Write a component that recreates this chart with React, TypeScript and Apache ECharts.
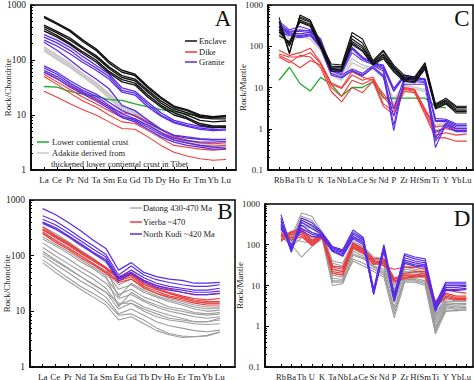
import React, { useEffect, useRef } from 'react';
import * as echarts from 'echarts';

// ---------- categories ----------
const reeCats = ['La', 'Ce', 'Pr', 'Nd', 'Ta', 'Sm', 'Eu', 'Gd', 'Tb', 'Dy', 'Ho', 'Er', 'Tm', 'Yb', 'Lu'];
const spiderCats = ['Rb', 'Ba', 'Th', 'U', 'K', 'Ta', 'Nb', 'La', 'Ce', 'Sr', 'Nd', 'P', 'Zr', 'Hf', 'Sm', 'Ti', 'Y', 'Yb', 'Lu'];

// ---------- Panel A (REE, chondrite normalised) ----------
const aEnclave = [
  [620, 470, 350, 230, 160, 95, 65, 55, 33, 21, 14.5, 12.5, 10, 9.3, 9.8],
  [590, 450, 330, 215, 150, 88, 60, 52, 31, 20, 14, 12, 9.5, 9, 9.3],
  [430, 330, 250, 170, 120, 75, 52, 45, 28, 18, 13, 11, 9, 8.5, 8.5],
  [400, 310, 230, 160, 112, 70, 48, 42, 26, 16.5, 12, 10, 8, 7.5, 7.8],
  [370, 280, 200, 140, 100, 62, 44, 38, 23, 15, 11, 9, 7, 6.3, 6.3],
  [340, 260, 190, 130, 92, 58, 40, 35, 21, 14, 10, 8.5, 6.5, 6, 6],
];
const aDike = [
  [60, 45, 33, 25, 19, 14, 11, 10, 7.5, 5.5, 4, 3.5, 3.1, 3, 3.1],
  [55, 40, 29, 21, 16, 12, 9, 8.5, 6.5, 4.8, 3.5, 3.1, 2.8, 2.7, 2.8],
  [50, 36, 25, 18, 14, 10, 7.5, 7, 5.2, 3.8, 2.8, 2.6, 2.4, 2.3, 2.4],
  [27, 21, 16, 12.5, 10, 7.5, 5.7, 5.5, 4, 2.8, 2.1, 1.8, 1.6, 1.5, 1.55],
];
const aGranite = [
  [290, 230, 170, 115, 80, 55, 31, 27, 17, 11, 8, 7, 6.2, 5.8, 6.2],
  [260, 205, 150, 100, 72, 50, 28, 25, 15.5, 10, 7.5, 6.5, 5.8, 5.4, 5.6],
  [230, 180, 130, 90, 65, 45, 26, 23, 14, 9.5, 7.2, 6.2, 5.5, 5.2, 5.3],
  [210, 150, 100, 65, 45, 30, 15, 12, 8, 5.5, 4.2, 3.8, 3.6, 3.5, 3.6],
  [78, 60, 42, 31, 24, 17, 12, 9.5, 7.2, 5.4, 4.3, 4, 3.7, 3.6, 3.6],
  [72, 55, 38, 28, 22, 15, 10.5, 8.5, 6.5, 4.8, 3.8, 3.4, 3.2, 3.2, 3.3],
  [65, 50, 35, 26, 20, 14, 9.5, 8, 6, 4.4, 3.5, 3.1, 2.8, 2.6, 2.5],
  [60, 46, 32, 24, 18, 13, 9, 7.5, 5.5, 4, 3.2, 2.8, 2.6, 2.4, 2.4],
];
const aLowerCrust = [33, 32, 27, 24, 22, 19, 18.5, 16, 14, 12.5, 11.5, 10.5, 9.5, 9.2, 9.4];
const aAdakite = [
  [170, 120, 85, 55, 38, 24, 14, 11, 8, 5.5, 4, 3.4, 3, 2.8, 2.8],
  [150, 105, 75, 50, 34, 21, 12.5, 10, 7, 4.8, 3.6, 3.1, 2.8, 2.6, 2.7],
];

// ---------- Panel C (spider, primitive mantle normalised) ----------
const cEnclave = [
  [500, 70, 570, 430, 120, 37, 35, 215, 150, 45, 80, 35, 20, 18, 40, 4, 5.5, 3.5, 3.5],
  [400, 65, 520, 400, 110, 33, 32, 180, 120, 42, 75, 32, 18, 17, 37, 3.8, 5, 3.3, 3.3],
  [300, 100, 480, 380, 105, 30, 30, 150, 100, 40, 65, 30, 17, 16, 34, 3.6, 4.8, 3, 3],
  [250, 110, 430, 340, 100, 28, 28, 130, 90, 38, 60, 28, 16, 15, 32, 3.4, 4.5, 2.8, 2.8],
  [220, 120, 400, 320, 95, 27, 27, 120, 80, 36, 55, 26, 15, 14, 30, 3.2, 4.2, 2.6, 2.6],
  [180, 130, 380, 300, 90, 25, 25, 110, 75, 35, 50, 24, 14, 13, 28, 3, 4, 2.4, 2.4],
];
const cGranite = [
  [400, 250, 300, 250, 150, 30, 26, 95, 55, 40, 35, 9.5, 20, 18, 16, 1.6, 1.6, 1.2, 1.2],
  [350, 230, 250, 230, 130, 28, 24, 85, 50, 38, 30, 8, 18, 17, 15, 1.5, 1.5, 1.1, 1.1],
  [300, 210, 200, 220, 110, 26, 22, 70, 45, 36, 28, 3, 17, 16, 16, 0.6, 1.4, 1.0, 1.0],
  [280, 200, 180, 200, 100, 25, 20, 28, 22, 34, 25, 1.2, 16, 15, 14, 0.35, 1.3, 1.0, 1.0],
  [250, 190, 170, 190, 95, 22, 18, 26, 20, 32, 20, 0.9, 14, 14, 13, 0.5, 1.2, 0.9, 0.9],
  [320, 220, 230, 240, 140, 29, 25, 90, 52, 39, 33, 8.5, 19, 17, 16, 1.8, 1.7, 1.3, 1.3],
  [220, 180, 160, 180, 90, 20, 17, 25, 19, 30, 18, 2, 12, 12, 12, 0.8, 1.1, 0.85, 0.85],
];
const cDike = [
  [80, 60, 70, 90, 40, 13, 10, 24, 18, 15, 7, 3.5, 10, 9, 3, 1.1, 1.2, 1.0, 1.0],
  [65, 55, 55, 70, 38, 12, 9.5, 20, 15, 18, 6, 3.0, 9.5, 8.7, 2.9, 0.9, 1.0, 0.9, 0.9],
  [60, 45, 30, 45, 35, 10, 6, 15, 12, 16, 4, 2.6, 9, 8, 2.5, 0.7, 0.8, 0.7, 0.75],
  [55, 40, 60, 55, 30, 8, 4.5, 10, 7.5, 14, 3.5, 2.2, 8, 7.5, 2.2, 0.6, 0.6, 0.5, 0.5],
];
const cLowerCrust = [15, 31, 12.5, 8.2, 17.5, 12, 6.2, 10, 10, 14, 5.5, 5.5, 5.5, 5.5, 5.5, 3.5, 3.2, null, null];
const cAdakite = [
  [250, 150, 200, 180, 100, 25, 20, 50, 35, 30, 20, 5, 12, 10, 9, 1.2, 1.5, 1.3, 1.3],
  [200, 120, 180, 150, 80, 20, 15, 40, 30, 28, 18, 4, 11, 9, 8, 1.1, 1.3, 1.2, 1.2],
];

// ---------- Panel B (REE, comparison) ----------
const bDatong = [
  [400, 300, 220, 150, 110, 75, 40, 45, 32, 25, 21, 18, 15, 14, 14],
  [330, 250, 180, 125, 90, 60, 30, 38, 27, 21, 17, 15, 13, 12, 12],
  [250, 190, 140, 100, 72, 50, 25, 30, 22, 18, 15, 13, 11, 10, 10.5],
  [200, 150, 110, 78, 58, 40, 20, 25, 18, 15, 12, 11, 9.5, 9, 9.5],
  [170, 120, 88, 62, 46, 32, 17, 20, 15, 12, 10, 9, 8, 7.5, 8],
  [140, 100, 72, 52, 38, 26, 13, 16, 12, 10, 8.5, 7.5, 6.5, 6.5, 7],
  [120, 85, 60, 42, 31, 22, 11, 14, 10, 8, 7, 6.5, 6, 5.8, 6],
  [100, 70, 50, 35, 26, 18, 9, 11, 8.5, 6.5, 5.5, 5, 4.5, 4.3, 4.6],
  [85, 58, 40, 28, 21, 15, 8.5, 9, 7, 5, 4, 3.6, 3.5, 3.7, 4.3],
  [75, 50, 35, 25, 18, 13, 7, 8, 6, 4.5, 3.8, 3.4, 3.5, 3.6, 4.2],
  [300, 230, 170, 120, 85, 60, 18, 32, 24, 19, 16, 14, 12, 11, 11.5],
  [220, 160, 120, 85, 62, 44, 12, 22, 16, 13, 11, 10, 9, 8.5, 9],
  [110, 80, 58, 42, 30, 22, 14, 14, 11, 9, 7.5, 7, 6.5, 6.5, 7.5],
];
const bYierba = [
  [330, 230, 170, 120, 85, 62, 40, 48, 32, 26, 22, 19, 17, 16, 17],
  [300, 210, 155, 110, 80, 58, 38, 45, 30, 25, 21, 18, 16, 15, 15],
  [270, 190, 140, 100, 72, 52, 35, 42, 28, 23, 19, 17, 15, 14, 14],
  [250, 175, 130, 92, 68, 48, 33, 38, 26, 21, 18, 16, 14, 13, 13],
  [290, 220, 160, 115, 85, 60, 42, 50, 35, 29, 25, 22, 20, 20, 21],
];
const bNorthKudi = [
  [700, 550, 400, 280, 190, 135, 55, 75, 50, 42, 38, 36, 32, 32, 33],
  [520, 420, 300, 210, 150, 105, 45, 65, 45, 37, 33, 30, 28, 28, 30],
  [450, 360, 260, 185, 130, 95, 40, 55, 40, 32, 28, 26, 24, 24, 26],
  [400, 320, 230, 165, 115, 85, 38, 50, 36, 29, 26, 24, 22, 22, 23],
  [380, 300, 220, 155, 110, 80, 35, 48, 34, 27, 24, 22, 20, 20, 21],
];

// ---------- Panel D (spider, comparison) ----------
const dDatong = [
  [300, 150, 600, 500, 200, 40, 35, 120, 90, 50, 45, 10, 30, 28, 25, 2, 5, 4.5, 4.5],
  [250, 120, 500, 400, 180, 30, 28, 100, 75, 40, 38, 7, 25, 23, 20, 1.6, 4.2, 4, 4],
  [220, 180, 300, 250, 170, 20, 18, 80, 60, 35, 30, 5, 20, 19, 17, 1.2, 3.5, 3.3, 3.4],
  [200, 160, 250, 200, 160, 15, 14, 70, 52, 30, 25, 4, 18, 17, 15, 1.0, 3.2, 3, 3],
  [180, 90, 150, 120, 150, 12, 12, 55, 45, 28, 20, 3, 15, 15, 13, 0.9, 2.8, 2.6, 2.7],
  [160, 100, 50, 90, 140, 10, 11, 45, 35, 25, 18, 2.5, 13, 13, 11, 0.8, 2.5, 2.4, 2.5],
  [260, 130, 400, 300, 190, 35, 30, 110, 85, 45, 40, 8, 28, 25, 22, 1.8, 4.8, 4.2, 4.3],
  [140, 200, 200, 150, 160, 18, 16, 60, 48, 30, 22, 2, 14, 14, 12, 0.7, 3, 2.8, 2.9],
  [230, 110, 350, 280, 175, 25, 22, 90, 70, 38, 33, 6, 22, 21, 19, 1.4, 3.8, 3.6, 3.6],
  [190, 140, 120, 110, 155, 13, 13, 40, 30, 22, 16, 1.6, 12, 12, 10, 0.65, 2.3, 2.4, 2.5],
];
const dYierba = [
  [150, 210, 250, 130, 180, 28, 25, 110, 75, 45, 45, 15, 18, 18, 20, 3.8, 6.5, 5.5, 5.5],
  [130, 180, 200, 110, 170, 25, 22, 100, 70, 38, 40, 13, 16, 17, 18, 3.5, 6, 5, 5],
  [170, 150, 180, 100, 160, 22, 20, 90, 65, 35, 38, 12, 15, 16, 17, 3.2, 5.5, 4.8, 4.8],
  [190, 130, 160, 95, 150, 20, 18, 85, 60, 33, 35, 14, 20, 22, 22, 3.0, 5, 4.5, 4.5],
  [120, 200, 220, 120, 175, 30, 28, 105, 80, 42, 30, 25, 28, 28, 25, 4, 8, 7, 6.5],
];
const dNorthKudi = [
  [550, 80, 450, 350, 200, 90, 75, 230, 150, 8, 100, 6, 60, 50, 45, 3.5, 12, 12, 12],
  [450, 70, 400, 300, 190, 85, 70, 200, 140, 7.5, 90, 5.5, 55, 45, 40, 3.2, 11, 11, 11],
  [380, 65, 350, 250, 180, 80, 65, 180, 130, 7, 85, 5, 48, 40, 36, 3, 10, 10, 10],
  [320, 75, 300, 200, 170, 75, 60, 160, 120, 6.5, 80, 4.5, 42, 36, 32, 2.8, 9, 9, 9.5],
  [280, 90, 250, 180, 160, 70, 55, 150, 110, 6, 75, 4.2, 38, 32, 30, 2.5, 8, 8, 8.5],
  [250, 100, 220, 160, 150, 68, 52, 140, 100, 6.5, 70, 4, 35, 30, 28, 2.3, 7.5, 7.5, 8],
];

const ticks1 = [1, 10, 100, 1000];
const ticks01 = [0.1, 1, 10, 100, 1000];

const FONT = 'Liberation Serif';
const BLACK = '#111111';
const RED = '#ee3b3b';
const PURPLE = '#5a2ce6';
const GRAY = '#9c9c9c';
const LGRAY = '#c9c9c9';
const GREEN = '#22a82a';

function minorList(min: number, max: number) {
  const out: number[] = [];
  for (let d = min; d < max; d *= 10) {
    for (let k = 2; k <= 9; k++) out.push(Math.round(d * k * 1000) / 1000);
  }
  return out;
}

export default function App() {
  const ref = useRef<HTMLDivElement>(null);
  useEffect(() => {
    if (!ref.current) return;
    const chart = echarts.init(ref.current, undefined, { renderer: 'svg' });

    const grids = [
      { left: 31, top: 5, width: 205, height: 165 },
      { left: 268, top: 5, width: 205, height: 165 },
      { left: 30, top: 200, width: 205, height: 167 },
      { left: 265, top: 204, width: 208, height: 163 },
    ];
    const panelCats = [reeCats, spiderCats, reeCats, spiderCats];
    const pads = [1, 1.06, 1, 1.55];
    const spans = [15.77, 19.66, 16.2, 20.2];
    const yMins = [1, 0.1, 1, 0.1];
    const yNames = ['Rock/Chondrite', 'Rock/Mantle', 'Rock/Chondrite', 'Rock/Mantle'];

    const xAxis = grids.map((_, i) => {
      const cats = panelCats[i];
      const pos = cats.map((_, k) => k + pads[i]);
      return {
        type: 'value',
        gridIndex: i,
        position: 'bottom',
        min: 0,
        max: spans[i],
        splitLine: { show: false },
        axisLine: { show: true, onZero: false, lineStyle: { color: '#000', width: 1.5 } },
        axisTick: { show: true, inside: true, length: 3, customValues: pos, lineStyle: { color: '#000' } },
        axisLabel: {
          customValues: pos,
          formatter: (v: number) => cats[Math.round(v - pads[i])] ?? '',
          fontFamily: FONT,
          fontSize: i % 2 === 0 ? 9 : 8.5,
          color: '#222',
          margin: 5,
        },
      };
    });

    const yAxis: any[] = [];
    grids.forEach((_, i) => {
      const ticks = yMins[i] === 1 ? ticks1 : ticks01;
      yAxis.push({
        type: 'log',
        logBase: 10,
        gridIndex: i,
        position: 'left',
        min: yMins[i],
        max: 1000,
        name: yNames[i],
        nameLocation: 'middle',
        nameMoveOverlap: false,
        nameGap: i % 2 === 0 ? 19 : 21,
        nameTextStyle: { fontFamily: FONT, fontSize: 9, color: '#222' },
        splitLine: { show: false },
        axisLine: { show: true, onZero: false, lineStyle: { color: '#000', width: 1.5 } },
        axisTick: { show: true, inside: true, length: 4, customValues: ticks, lineStyle: { color: '#000' } },
        axisLabel: {
          customValues: ticks,
          formatter: (v: number) => String(v),
          fontFamily: FONT,
          fontSize: i % 2 === 0 ? 9.5 : 9,
          color: '#222',
          margin: 5,
        },
      });
    });
    grids.forEach((_, i) => {
      yAxis.push({
        type: 'log',
        logBase: 10,
        gridIndex: i,
        position: 'left',
        min: yMins[i],
        max: 1000,
        splitLine: { show: false },
        axisLine: { show: false, onZero: false },
        axisTick: { show: true, inside: true, length: 2, customValues: minorList(yMins[i], 1000), lineStyle: { color: '#000' } },
        axisLabel: { show: false },
      });
    });

    const series: any[] = [];
    const add = (panel: number, rows: (number | null)[][], color: string, width: number) => {
      rows.forEach((row) => {
        series.push({
          type: 'line',
          xAxisIndex: panel,
          yAxisIndex: panel,
          data: row.map((v, k) => [k + pads[panel], v]),
          showSymbol: false,
          symbol: 'none',
          silent: true,
          connectNulls: false,
          lineStyle: { color, width },
        });
      });
    };
    // Panel A
    add(0, aAdakite, LGRAY, 2.5);
    add(0, [aLowerCrust], GREEN, 1.3);
    add(0, aDike, RED, 1.1);
    add(0, aGranite, PURPLE, 1.3);
    add(0, aEnclave, BLACK, 1.4);
    // Panel C
    add(1, cAdakite, LGRAY, 1.5);
    add(1, [cLowerCrust], GREEN, 1.3);
    add(1, cDike, RED, 1.1);
    add(1, cGranite, PURPLE, 1.1);
    add(1, cEnclave, BLACK, 1.1);
    // Panel B
    add(2, bDatong, GRAY, 1.1);
    add(2, bYierba, RED, 1.2);
    add(2, bNorthKudi, PURPLE, 1.2);
    // Panel D
    add(3, dDatong, GRAY, 1.1);
    add(3, dYierba, RED, 1.2);
    add(3, dNorthKudi, PURPLE, 1.2);

    const legLine = (x: number, y: number, color: string, w = 1.5) => ({
      type: 'line',
      shape: { x1: x, y1: y, x2: x + 12, y2: y },
      style: { stroke: color, lineWidth: w },
      silent: true,
    });
    const legText = (x: number, y: number, text: string, size = 9) => ({
      type: 'text',
      x,
      y,
      style: { text, fontFamily: FONT, fontSize: size, fill: '#222', verticalAlign: 'middle' },
      silent: true,
    });
    const letter = (x: number, y: number, t: string) => ({
      type: 'text',
      x,
      y,
      style: { text: t, fontFamily: FONT, fontSize: 23, fill: '#111', align: 'center', verticalAlign: 'middle' },
      silent: true,
    });

    const graphic = [
      ...grids.map((g) => ({
        type: 'rect',
        shape: { x: g.left, y: g.top, width: g.width, height: g.height },
        style: { fill: 'none', stroke: '#000', lineWidth: 1.5 },
        silent: true,
      })),
      letter(223, 18, 'A'),
      letter(462, 18, 'C'),
      letter(225, 211, 'B'),
      letter(462, 218, 'D'),
      legLine(185, 41, BLACK),
      legText(199, 41, 'Enclave', 8.5),
      legLine(185, 52, RED),
      legText(199, 52, 'Dike', 8.5),
      legLine(185, 62, PURPLE),
      legText(199, 62, 'Granite', 8.5),
      legLine(37, 142, GREEN),
      legText(52, 142, 'Lower contiental crust', 8.5),
      legLine(37, 153, LGRAY),
      legText(52, 153, 'Adakite derived from', 8.5),
      legText(51, 164, 'thickened lower contiental crust in Tibet', 8.5),
      legLine(130, 208, GRAY, 1.2),
      legText(143, 208, 'Datong 430-470 Ma', 8.5),
      legLine(130, 222, RED),
      legText(143, 222, 'Yierba ~470', 8.5),
      legLine(130, 234, PURPLE),
      legText(143, 234, 'North Kudi ~420 Ma', 8.5),
    ];

    chart.setOption({
      animation: false,
      backgroundColor: '#fff',
      grid: grids.map((g) => ({ ...g, show: false, containLabel: false, outerBoundsMode: 'none' })),
      xAxis,
      yAxis,
      series,
      graphic,
    });
    return () => chart.dispose();
  }, []);
  return <div ref={ref} style={{ position: 'fixed', left: 0, top: 0, width: 474, height: 380 }} />;
}
